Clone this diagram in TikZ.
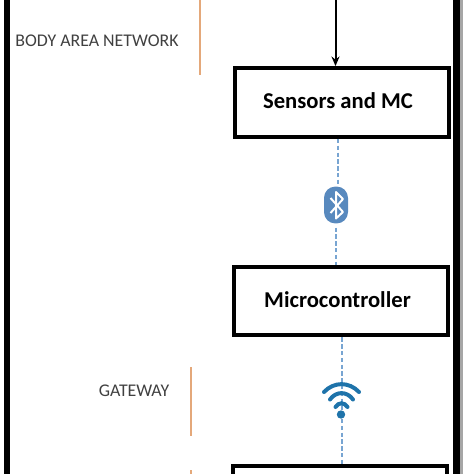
\documentclass[tikz,border=0pt]{standalone}
\usepackage{fontspec}
\usetikzlibrary{arrows.meta}
\setmainfont{Carlito}
\definecolor{tierline}{RGB}{228,168,122}
\definecolor{linkblue}{RGB}{120,165,210}
\definecolor{btblue}{RGB}{88,137,190}
\definecolor{wifiblue}{RGB}{30,115,170}
\tikzset{
  blockbox/.style={draw, rectangle, line width=1mm, minimum width=53.5mm, minimum height=17.2mm, inner sep=0pt},
  blocktext/.style={font=\fontsize{16.1}{18}\selectfont\bfseries, inner sep=0pt},
  tierlabel/.style={font=\fontsize{12.7}{14}\selectfont, text=black!75, inner sep=0pt},
  tierline/.style={draw=tierline, line width=0.5mm},
  radiolink/.style={draw=linkblue, line width=0.5mm, dash pattern=on 1.1mm off 0.6mm},
  wifiarc/.style={draw=wifiblue, line width=1mm, line cap=round}
}
\begin{document}
\begin{tikzpicture}[>=stealth, x=0.25mm, y=-0.25mm]
    \clip (0,0) rectangle (474,474);
    % Frame
    \fill[black!35] (456,-5) rectangle (463,480);
    \draw[line width=1.7mm] (7,-10) rectangle (456.5,490);

    % Blocks
    \node[blockbox] (sensors) at (342,102.5) {};
    \node[blocktext] (sensorstext) at (338,101) {Sensors and MC};
    \node[blockbox] (micro) at (341,301) {};
    \node[blocktext] (microtext) at (337.5,300) {Microcontroller};
    \node[blockbox] (cloud) at (340,500) {};

    % Links
    \coordinate (top) at (335.5,-5);
    \draw[-{Stealth[length=2.4mm, width=2mm]}, line width=0.5mm] (top) -- (sensors.north -| top);
    \node[draw=none, fill=btblue, rounded corners=2.8mm, minimum width=6mm, minimum height=9.2mm, inner sep=0pt] (bt) at (336,205) {};
    \draw[radiolink] (sensors.south -| 338,0) -- (bt.north -| 338,0);
    \draw[radiolink, shorten <=1mm] (bt.south) -- (micro.north -| bt);
    \coordinate (wifi) at (341,414.5);
    \draw[radiolink] (micro.south -| 342,0) -- (cloud.north -| 342,0);

    % Icons
    \draw[white, line width=0.5mm, line join=round] (330.5,198) -- (343,212) -- (336,218.5) -- (336,192) -- (343,199) -- (330.5,213);
    \fill[wifiblue] (wifi) circle (4.2);
    \draw[wifiarc] (335.5,407) .. controls (339,402) and (344,402) .. (347.5,407);
    \draw[wifiarc] (330,399.5) .. controls (336,391) and (347,391) .. (353,399.5);
    \draw[wifiarc] (324,392) .. controls (334,381.5) and (349,381.5) .. (359,392);

    % Tiers
    \node[tierlabel] (ban) at (97,41) {BODY AREA NETWORK};
    \node[tierlabel] (gateway) at (134,391) {GATEWAY};
    \draw[tierline] (200,-5) -- (200,75);
    \draw[tierline] (190.5,367) -- (190.5,436);
    \draw[tierline] (190.5,470) -- (190.5,480);
\end{tikzpicture}
\end{document}
